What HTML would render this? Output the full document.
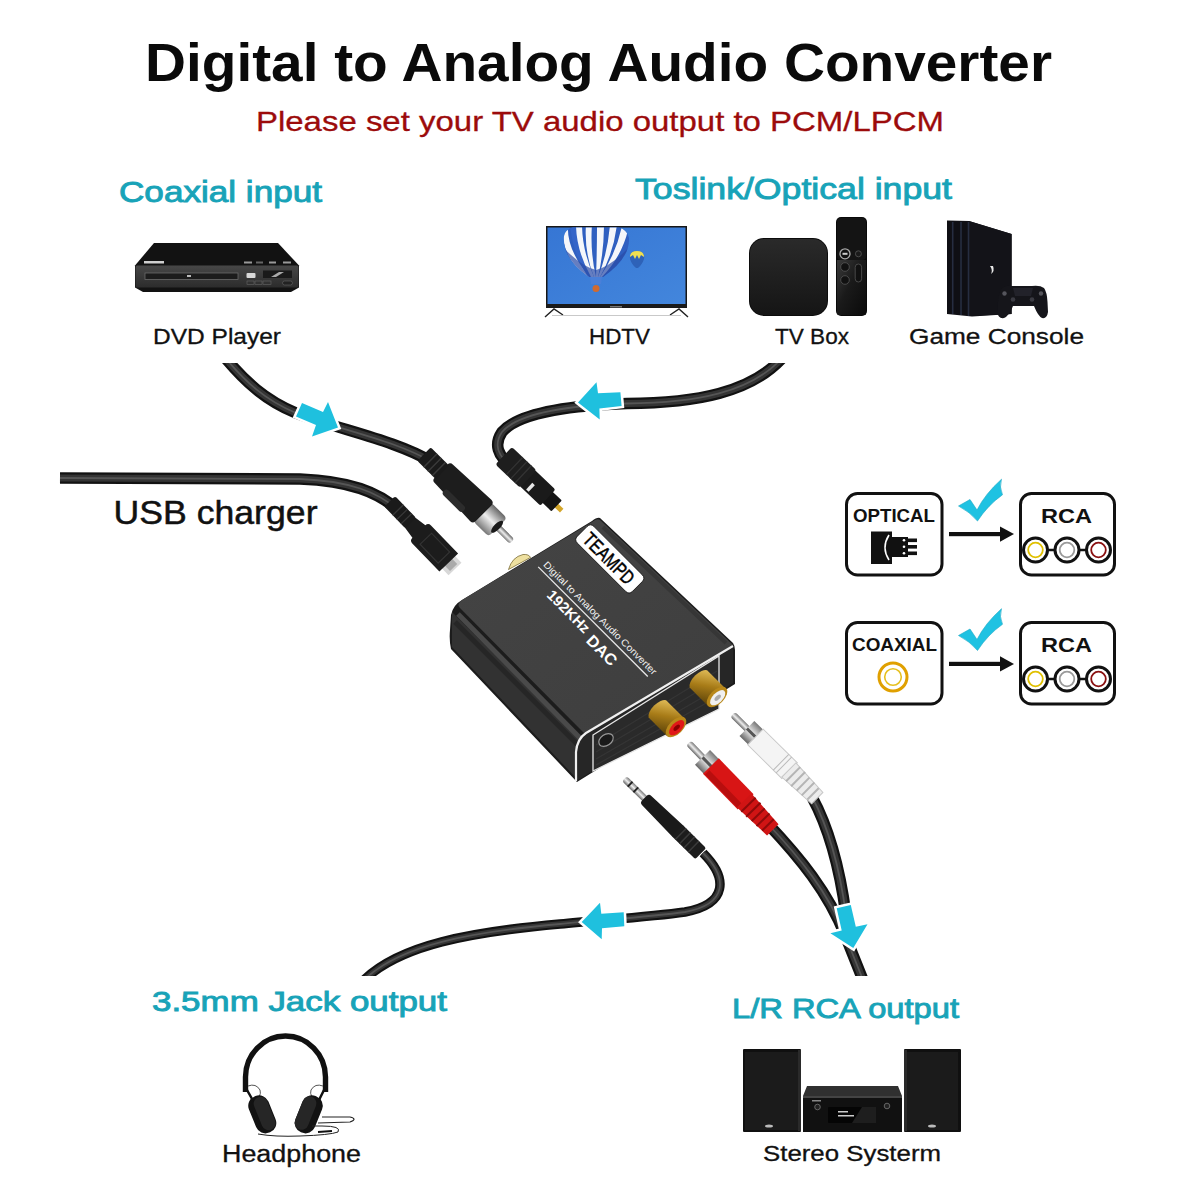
<!DOCTYPE html>
<html><head><meta charset="utf-8">
<style>
html,body{margin:0;padding:0;background:#fff;width:1200px;height:1200px;overflow:hidden}
svg{display:block}
text{font-family:"Liberation Sans",sans-serif}
</style></head>
<body>
<svg width="1200" height="1200" viewBox="0 0 1200 1200">
<defs>
  <linearGradient id="tvscr" x1="0" y1="0" x2="1" y2="1">
    <stop offset="0" stop-color="#3676d4"/><stop offset="1" stop-color="#4386dc"/>
  </linearGradient>
  <linearGradient id="boxg" x1="0" y1="0" x2="0" y2="1">
    <stop offset="0" stop-color="#2a2a2a"/><stop offset="1" stop-color="#151515"/>
  </linearGradient>
  <linearGradient id="topg" x1="0" y1="0" x2="1" y2="1">
    <stop offset="0" stop-color="#444"/><stop offset="1" stop-color="#3e3e3e"/>
  </linearGradient>
  <linearGradient id="gold" x1="0" y1="0" x2="1" y2="1">
    <stop offset="0" stop-color="#e8c460"/><stop offset=".45" stop-color="#a87c18"/><stop offset="1" stop-color="#4e3806"/>
  </linearGradient>
  <linearGradient id="metal" x1="0" y1="0" x2="0" y2="1">
    <stop offset="0" stop-color="#777"/><stop offset=".5" stop-color="#eee"/><stop offset="1" stop-color="#666"/>
  </linearGradient>
</defs>
<rect width="1200" height="1200" fill="#fff"/>

<!-- ===== TEXT ===== -->
<g id="texts">
<text x="145" y="81" font-size="54.3" font-weight="bold" fill="#0a0a0a" textLength="907" lengthAdjust="spacingAndGlyphs">Digital to Analog Audio Converter</text>
<text x="256" y="130.5" font-size="28" fill="#9c0b0b" stroke="#9c0b0b" stroke-width="0.3" textLength="688" lengthAdjust="spacingAndGlyphs">Please set your TV audio output to PCM/LPCM</text>
<text x="119" y="202" font-size="29" fill="#18a3b8" stroke="#18a3b8" stroke-width="0.9" textLength="203" lengthAdjust="spacingAndGlyphs">Coaxial input</text>
<text x="635" y="199" font-size="30" fill="#18a3b8" stroke="#18a3b8" stroke-width="0.9" textLength="317" lengthAdjust="spacingAndGlyphs">Toslink/Optical input</text>
<text x="153" y="344" font-size="22.3" fill="#111" stroke="#111" stroke-width="0.3" textLength="128" lengthAdjust="spacingAndGlyphs">DVD Player</text>
<text x="589" y="344" font-size="22.3" fill="#111" stroke="#111" stroke-width="0.3" textLength="61" lengthAdjust="spacingAndGlyphs">HDTV</text>
<text x="775" y="343.5" font-size="22.3" fill="#111" stroke="#111" stroke-width="0.3" textLength="74" lengthAdjust="spacingAndGlyphs">TV Box</text>
<text x="909" y="343.5" font-size="22.3" fill="#111" stroke="#111" stroke-width="0.3" textLength="175" lengthAdjust="spacingAndGlyphs">Game Console</text>
<text x="113.5" y="524" font-size="33.5" fill="#111" stroke="#111" stroke-width="0.5" textLength="204" lengthAdjust="spacingAndGlyphs">USB charger</text>
<text x="152" y="1011" font-size="28" fill="#18a3b8" stroke="#18a3b8" stroke-width="0.9" textLength="295" lengthAdjust="spacingAndGlyphs">3.5mm Jack output</text>
<text x="732" y="1018" font-size="28" fill="#18a3b8" stroke="#18a3b8" stroke-width="0.9" textLength="227" lengthAdjust="spacingAndGlyphs">L/R RCA output</text>
<text x="222" y="1162" font-size="23" fill="#111" stroke="#111" stroke-width="0.3" textLength="139" lengthAdjust="spacingAndGlyphs">Headphone</text>
<text x="763" y="1161" font-size="22" fill="#111" stroke="#111" stroke-width="0.3" textLength="178" lengthAdjust="spacingAndGlyphs">Stereo Systerm</text>
</g>

<!-- ===== DVD PLAYER ===== -->
<g id="dvd">
  <path d="M154,243 L278,243 L299,265.5 L299,287.5 L291,292 L143,292 L135,287.5 L135,265.5 Z" fill="#121212"/>
  <defs><linearGradient id="dvdf" x1="0" y1="0" x2="0" y2="1"><stop offset="0" stop-color="#474747"/><stop offset="1" stop-color="#2c2c2c"/></linearGradient></defs>
  <rect x="135.5" y="265.5" width="163" height="22" rx="1.5" fill="url(#dvdf)"/>
  <rect x="145" y="273" width="93" height="6.5" fill="#1c1c1c" stroke="#6a6a6a" stroke-width="0.8"/>
  <rect x="187" y="275" width="4" height="2" fill="#bbb"/>
  <rect x="144" y="261" width="20" height="2.5" fill="#cfcfcf"/>
  <rect x="244" y="261.5" width="8" height="2" fill="#999"/>
  <rect x="256" y="261.5" width="7" height="2" fill="#666"/>
  <rect x="269" y="261.5" width="7" height="2" fill="#999"/>
  <rect x="283" y="261.5" width="8" height="2" fill="#999"/>
  <rect x="246.5" y="273" width="9" height="5" rx="1" fill="#d8d8d8"/>
  <rect x="263" y="270.5" width="29" height="7.5" fill="#1a1a1a"/>
  <path d="M271,277 L279,272 L284,272 L276,277 Z" fill="#aaa"/>
  <rect x="247" y="281" width="7" height="3.5" fill="none" stroke="#666" stroke-width="0.6"/>
  <rect x="255" y="281" width="7" height="3.5" fill="none" stroke="#666" stroke-width="0.6"/>
  <rect x="263" y="281" width="8" height="3.5" fill="none" stroke="#666" stroke-width="0.6"/>
  <rect x="282.5" y="281" width="10" height="4" rx="2" fill="#222" stroke="#666" stroke-width="0.6"/>
</g>

<!-- ===== HDTV ===== -->
<g id="tv">
  <clipPath id="envclip"><path d="M564,236 Q566,224 596,224 Q627,224 629,238 Q630,258 603,277 L589,277 Q562,258 564,236 Z"/></clipPath><clipPath id="scrclip"><rect x="547.5" y="227.5" width="138" height="76.5"/></clipPath>
  <rect x="546" y="226" width="141" height="82" fill="#161616"/>
  <rect x="547.5" y="227.5" width="138" height="76.5" fill="url(#tvscr)"/>
  <g clip-path="url(#scrclip)"><g clip-path="url(#envclip)">
    <rect x="560" y="222" width="72" height="60" fill="#2f5fc0"/>
    <path d="M568,224 Q566,250 590,277 L584,277 Q560,252 562,224 Z" fill="#f4f6fa"/>
    <path d="M576,224 Q578,252 592,277 L588,277 Q572,252 570,224 Z" fill="#3464c8"/>
    <path d="M582,224 Q582,250 594,277 L591,277 Q576,250 576,224 Z" fill="#f4f6fa"/>
    <path d="M592,224 Q590,252 596,277 L594,277 Q584,252 586,224 Z" fill="#f4f6fa"/>
    <path d="M604,224 Q604,252 598,277 L596,277 Q597,252 597,224 Z" fill="#f4f6fa"/>
    <path d="M617,224 Q614,252 600,277 L598,277 Q608,252 610,224 Z" fill="#f4f6fa"/>
    <path d="M628,230 Q622,256 602,277 L600,277 Q616,254 622,226 Z" fill="#f4f6fa"/>
    <path d="M560,244 Q580,266 596,270 Q612,266 632,244 L632,282 L560,282 Z" fill="#2a4ca6" opacity="0.7"/>
  </g></g>
  <path d="M590,277 L602,277 L601,284 L591,284 Z" fill="#4a7fd8"/>
  <ellipse cx="596" cy="288.5" rx="3.5" ry="3.5" fill="#d06a30"/>
  <path d="M630,259 Q629,251 637,251 Q645,251 644,259 Q642,265 638,268 L636,268 Q632,265 630,259 Z" fill="#2e62b8"/>
  <path d="M630,257 Q630,251 637,251 Q644,251 644,257 L641,255 L639,259 L637,255 L635,259 L633,255 Z" fill="#f0e050"/>
  <rect x="546" y="304" width="141" height="3.5" fill="#1a1a1a"/>
  <rect x="610" y="306" width="12" height="1.5" fill="#777"/>
  <path d="M545,317 L554,309 L563,315 M688,317 L679,309 L670,315" stroke="#222" stroke-width="1.4" fill="none"/>
  <path d="M552,315.5 L681,315.5" stroke="#bbb" stroke-width="0.8"/>
</g>

<!-- ===== TV BOX ===== -->
<g id="tvbox">
  <rect x="749" y="238" width="79" height="78" rx="15" fill="#0c0c0c"/>
  <rect x="750" y="239" width="77" height="76" rx="14" fill="url(#boxg)"/>
  <defs><linearGradient id="remg" x1="0" y1="0" x2="1" y2="1"><stop offset="0" stop-color="#3a3a3a"/><stop offset=".45" stop-color="#1a1a1a"/><stop offset="1" stop-color="#0a0a0a"/></linearGradient></defs>
  <rect x="836" y="217" width="31" height="99" rx="5" fill="#090909"/>
  <rect x="837" y="218" width="29" height="42" rx="4" fill="#141414"/>
  <path d="M837,260 L866,260 L866,314 Q866,315 864,315 L839,315 Q837,315 837,313 Z" fill="url(#remg)"/>
  <circle cx="845" cy="253.8" r="5" fill="#111" stroke="#aaa" stroke-width="1.3"/>
  <rect x="842.5" y="252.8" width="5" height="2" fill="#ccc"/>
  <circle cx="858.4" cy="253.8" r="3" fill="#1a1a1a" stroke="#555" stroke-width="0.8"/>
  <circle cx="845" cy="267" r="4.3" fill="#111" stroke="#555" stroke-width="0.8"/>
  <rect x="855.2" y="264" width="6.4" height="18" rx="3.2" fill="#111" stroke="#555" stroke-width="0.8"/>
  <circle cx="845" cy="280" r="4.3" fill="#111" stroke="#555" stroke-width="0.8"/>
</g>

<!-- ===== GAME CONSOLE ===== -->
<g id="ps4">
  <path d="M947,220.5 L969,221 L1011.6,234 L1011.6,314 L972,316.5 L947,314 Z" fill="#0f0f14"/>
  <path d="M969,221 L1011.6,234 L1011.6,314 L969,316 Z" fill="#131318"/>
  <path d="M952.7,222 L952.7,314 M961,222 L961,315 M968.5,222 L968.5,316" stroke="#262d40" stroke-width="1.6"/>
  <path d="M990,266 Q993,270 991,274 Q995,271 993,266 Z" fill="#e8e8e8"/>
  <path d="M1003,287.5 Q1006,285 1012,286 L1032,286 Q1040,285 1044,288 Q1047,292 1047.5,302 L1048,312 Q1047,319 1042,318 Q1038,316 1034,306 L1013,306 Q1009,316 1004,318 Q998,319 997.5,312 L998,302 Q999,291 1003,287.5 Z" fill="#15151a"/>
  <path d="M1013,288 L1033,288 L1031,296 L1015,296 Z" fill="#22222a"/>
  <circle cx="1004.5" cy="293.5" r="2.2" fill="#55555c"/>
  <circle cx="1041" cy="293.5" r="2.2" fill="#55555c"/>
  <circle cx="1013" cy="299.5" r="2.3" fill="#3a3a42"/>
  <circle cx="1032" cy="299.5" r="2.3" fill="#3a3a42"/>
</g>

<!-- ===== CABLES ===== -->
<defs>
  <clipPath id="cclip"><rect x="0" y="363" width="1200" height="613"/></clipPath>
  <path id="c1" d="M222,354 C245,382 265,400 296,413 C340,430 395,440 432,462"/>
  <path id="c2" d="M60,478 L300,479 C350,481 378,492 398,510"/>
  <path id="c3" d="M784,356 C752,393 695,403 627,403.5 C580,405 520,411 502,432 C494,444 497,456 512,466"/>
  <path id="c4" d="M703,853 C728,878 728,904 685,912 C650,917 600,920 560,924 C470,932 400,945 364,980"/>
  <path id="c5" d="M768,824 C800,858 828,892 845,935 L863,980"/>
  <path id="c6" d="M812,797 C830,830 840,870 846,915"/>
</defs>
<g fill="none" stroke-linecap="butt" clip-path="url(#cclip)">
  <g stroke="#121212" stroke-width="11.5">
    <use href="#c1"/><use href="#c2"/><use href="#c3"/><use href="#c5"/><use href="#c6"/>
    <use href="#c4" stroke-width="9.5"/>
  </g>
  <g stroke="#343434" stroke-width="7">
    <use href="#c1"/><use href="#c2"/><use href="#c3"/><use href="#c5"/><use href="#c6"/>
    <use href="#c4" stroke-width="5.5"/>
  </g>
  <g stroke="#555" stroke-width="1.8">
    <use href="#c1"/><use href="#c2"/><use href="#c3"/><use href="#c5"/><use href="#c6"/>
    <use href="#c4"/>
  </g>
</g>

<!-- ===== ARROWS ===== -->
<g fill="#1fc0de" stroke="#fff" stroke-width="5" paint-order="stroke" stroke-linejoin="miter">
  <path d="M302,403 L296,416.5 L316,425 L312,436.5 L338,427.5 L328,402 L323,412 Z"/>
  <path d="M578,402.4 L596.5,382.3 L598,393.3 L620.4,392.2 L621.6,405.9 L599.4,408.5 L599.7,419.6 Z"/>
  <path d="M581.7,922 L600,902.7 L601.3,913.7 L623.7,912.3 L624.3,926.3 L602,928.3 L601.7,939.3 Z"/>
  <path d="M836.7,908.3 L850.8,905 L855.8,926.7 L867.5,924.2 L853.3,947.9 L830.4,933.3 L841.7,930.4 Z"/>
</g>

<!-- ===== DEVICE ===== -->
<g id="dac">
  <!-- silhouette outline -->
  <path d="M600,518 L733,643 Q735,646 735,650 L735,684 L577,782 L451,649 Q449,640 450,630 L451,615 Q453,605 462,600 L592,521 Q597,517 600,518 Z" fill="#1c1c1c"/>
  <!-- left face -->
  <path d="M452,612 L580,740 L578,780 L452,647 Z" fill="#323232"/>
  <path d="M455,622 L578,745" stroke="#262626" stroke-width="5" fill="none"/>
  <path d="M458,614 L580,738" stroke="#4a4a4a" stroke-width="5" fill="none"/>
  <!-- top surface -->
  <path d="M600,520 L733,645 L584,733 L460,608 Q456,604 462,600 L592,522 Q597,518 600,520 Z" fill="url(#topg)"/>
  <path d="M603,527 L726,643" stroke="#363636" stroke-width="4" fill="none"/>
  <!-- output face -->
  <path d="M584,735 L733,647 L733,683 L578,780 L576,752 Q576,742 584,735 Z" fill="#262626"/>
  <path d="M733,646 L586,733 Q577,739 576,752 L576,781" stroke="#f0f0f0" stroke-width="2.2" fill="none"/>
  <path d="M593,735 L719,656 L719,709 L593,771 Z" fill="#2a2a2a" stroke="#e6e6e6" stroke-width="1.3"/>
  <path d="M596,745 L717,671 M596,752 L717,680 M596,759 L717,689 M596,765 L717,697" stroke="#353535" stroke-width="1.2"/>
  <ellipse cx="606" cy="740" rx="8" ry="5.5" transform="rotate(-35 606 740)" fill="#1a1a1a" stroke="#999" stroke-width="1.2"/>
  <!-- label + texts in rotated frame -->
  <g transform="translate(538.2,566.9) rotate(45)">
    <path d="M11,-68 L79,-68 Q84,-68 84,-63 L84,-49.5 Q84,-44.5 79,-44.5 L11,-44.5 Q6,-44.5 6,-49.5 L6,-63 Q6,-68 11,-68 Z" fill="#fff" stroke="#111" stroke-width="0.8"/>
    <text x="12" y="-49.2" font-size="19.5" fill="#000" stroke="#000" stroke-width="0.5" textLength="64" lengthAdjust="spacingAndGlyphs">TEAMPD</text>
    <text x="2" y="-4.4" font-size="9.6" fill="#f2f2f2" textLength="156" lengthAdjust="spacingAndGlyphs">Digital to Analog Audio Converter</text>
    <path d="M0,0 L155,0" stroke="#e8e8e8" stroke-width="1.3"/>
    <text x="26" y="15" font-size="14.5" font-weight="bold" fill="#fff" textLength="54" lengthAdjust="spacingAndGlyphs">192KHz</text>
    <text x="86" y="19.5" font-size="16" font-weight="bold" fill="#fff" textLength="36" lengthAdjust="spacingAndGlyphs">DAC</text>
  </g>
  <!-- gold coax jack at back -->
  <path d="M508.5,569.5 Q512,557 523,554.5 Q529,554 530.5,557.5 Z" fill="#eee0a0" stroke="#6a5a20" stroke-width="0.7"/>
  <!-- rca jacks: cylinders along 45deg -->
  <g transform="translate(676,727) rotate(45)">
    <path d="M-26,-12 L0,-12 A6,12.7 0 0 1 0,12.7 L-26,12.7 A6,12.7 0 0 1 -26,-12 Z" fill="url(#gold)"/>
    <ellipse cx="0" cy="0" rx="7" ry="12.7" fill="#b8881a"/>
    <ellipse cx="1" cy="0" rx="5" ry="9.5" fill="#e01818"/>
    <ellipse cx="1" cy="0" rx="2" ry="4" fill="#8a0000"/>
  </g>
  <g transform="translate(717,697) rotate(45)">
    <path d="M-26,-12 L0,-12 A6,12.7 0 0 1 0,12.7 L-26,12.7 A6,12.7 0 0 1 -26,-12 Z" fill="url(#gold)"/>
    <ellipse cx="0" cy="0" rx="7" ry="12.7" fill="#b8881a"/>
    <ellipse cx="1" cy="0" rx="5" ry="9.5" fill="#f0f0f0"/>
    <ellipse cx="1" cy="0" rx="2" ry="4" fill="#aaa"/>
  </g>
</g>

<!-- ===== CONNECTORS ===== -->
<!-- coax RCA plug (x from tip toward cable) -->
<g transform="translate(512,541.5) rotate(224.8)">
  <rect x="0" y="-3.3" width="24" height="6.6" rx="3" fill="url(#metal)"/>
  <rect x="20" y="-13" width="22" height="26" rx="4" fill="url(#metal)"/>
  <ellipse cx="21" cy="0" rx="3" ry="8" fill="#1a1a1a"/>
  <path d="M44,-15 L96,-13 Q100,-13 100,-9 L100,9 Q100,13 96,13 L44,15 Q40,15 40,11 L40,-11 Q40,-15 44,-15 Z" fill="#1d1d1d"/>
  <rect x="56" y="-15.5" width="28" height="7" rx="3" fill="#2c2c2c"/>
  <rect x="98" y="-9.5" width="26" height="19" rx="2" fill="#1a1a1a"/>
  <path d="M103,-9.5 L103,9.5 M109,-9.5 L109,9.5 M115,-9.5 L115,9.5" stroke="#3a3a3a" stroke-width="1.5"/>
</g>
<!-- optical plug -->
<g transform="translate(561,510) rotate(223.4)">
  <rect x="-1" y="-2.5" width="8" height="5" fill="#d4a62a"/>
  <rect x="6" y="-7.5" width="13" height="15" rx="1" fill="#141414"/>
  <rect x="18" y="-11" width="29" height="22" rx="2" fill="#1a1a1a"/>
  <rect x="36" y="-9" width="3.5" height="9" fill="#e8e8e8" transform="rotate(0)"/>
  <rect x="45" y="-12" width="34" height="24" rx="3" fill="#1e1e1e"/>
  <path d="M52,-12 L52,12 M58,-12 L58,12 M64,-12 L64,12" stroke="#333" stroke-width="1.3"/>
</g>
<!-- micro usb -->
<g transform="translate(455,569) rotate(226)">
  <rect x="0" y="-9" width="11" height="18" fill="#d8d8d8"/>
  <rect x="2" y="-5" width="8" height="10" fill="#aaa"/>
  <path d="M9,-13 L48,-13 Q52,-13 52,-9 L66,-7 L66,7 L52,9 Q52,13 48,13 L9,13 Z" fill="#1c1c1c"/>
  <rect x="16" y="-8" width="26" height="16" fill="none" stroke="#333" stroke-width="1.2"/>
  <rect x="64" y="-7.5" width="30" height="15" rx="2" fill="#1a1a1a"/>
  <path d="M70,-7.5 L70,7.5 M76,-7.5 L76,7.5 M82,-7.5 L82,7.5" stroke="#383838" stroke-width="1.3"/>
</g>
<!-- 3.5mm jack -->
<g transform="translate(624.4,778.6) rotate(44.5)">
  <rect x="0" y="-3.4" width="33" height="6.8" rx="3" fill="url(#metal)"/>
  <rect x="7" y="-3.4" width="2" height="6.8" fill="#222"/>
  <rect x="15" y="-3.4" width="2" height="6.8" fill="#222"/>
  <path d="M31,-6.5 L76,-7.8 L76,7.8 L31,6.5 Q28,6.5 28,3 L28,-3 Q28,-6.5 31,-6.5Z" fill="#1a1a1a"/>
  <rect x="74" y="-7.8" width="33" height="15.6" rx="2" fill="#1c1c1c"/>
  <path d="M79,-7.8 L79,7.8 M85,-7.8 L85,7.8 M91,-7.8 L91,7.8 M97,-7.8 L97,7.8" stroke="#3a3a3a" stroke-width="1.5"/>
</g>
<!-- red rca -->
<g transform="translate(688.6,743) rotate(45.9)">
  <rect x="0" y="-3.4" width="26" height="6.8" rx="3" fill="url(#metal)"/>
  <rect x="20" y="-10.5" width="14" height="21" fill="url(#metal)"/>
  <rect x="20" y="-1.5" width="14" height="3" fill="#555"/>
  <path d="M32,-11 L82,-11 L82,11 L32,11 Z" fill="#d81515"/>
  <rect x="34" y="4" width="46" height="6" fill="#b80e0e"/>
  <path d="M80,-10 L121,-8 L121,8 L80,10 Z" fill="#d01414"/>
  <path d="M86,-10 L86,10 M93,-10 L93,10 M100,-9 L100,9 M107,-9 L107,9 M114,-8 L114,8" stroke="#8e0a0a" stroke-width="2"/>
</g>
<!-- white rca -->
<g transform="translate(732.7,714.4) rotate(44.7)">
  <rect x="0" y="-3.4" width="26" height="6.8" rx="3" fill="url(#metal)"/>
  <rect x="20" y="-10.5" width="14" height="21" fill="url(#metal)"/>
  <rect x="20" y="-1.5" width="14" height="3" fill="#555"/>
  <path d="M32,-11 L80,-11 L80,11 L32,11 Z" fill="#f4f4f4" stroke="#c8c8c8" stroke-width="1"/>
  <path d="M68,-11 L68,11 M72,-11 L72,11" stroke="#bbb" stroke-width="1"/>
  <path d="M79,-10 L119,-8 L119,8 L79,10 Z" fill="#ececec" stroke="#c8c8c8" stroke-width="1"/>
  <path d="M85,-10 L85,10 M92,-10 L92,10 M99,-9 L99,9 M106,-9 L106,9 M113,-8 L113,8" stroke="#b5b5b5" stroke-width="2"/>
</g>

<!-- ===== RIGHT DIAGRAM ===== -->
<g id="diag" fill="none" stroke="#111" stroke-width="3">
  <rect x="846.5" y="493.5" width="95.5" height="81.5" rx="11"/>
  <rect x="1020.5" y="493.5" width="94" height="81.5" rx="11"/>
  <rect x="846.5" y="622.5" width="95.5" height="81.5" rx="11"/>
  <rect x="1020.5" y="622.5" width="94" height="81.5" rx="11"/>
</g>
<g font-weight="bold" fill="#111">
  <text x="853" y="522" font-size="18" textLength="82" lengthAdjust="spacingAndGlyphs">OPTICAL</text>
  <text x="852" y="651" font-size="18" textLength="85" lengthAdjust="spacingAndGlyphs">COAXIAL</text>
  <text x="1041" y="523" font-size="21" textLength="51" lengthAdjust="spacingAndGlyphs">RCA</text>
  <text x="1041" y="652" font-size="21" textLength="51" lengthAdjust="spacingAndGlyphs">RCA</text>
</g>
<!-- optical icon -->
<g fill="#111">
  <rect x="871" y="531.5" width="21" height="32.5"/>
  <rect x="890" y="537" width="18" height="20"/>
  <rect x="906" y="538.5" width="11" height="3.6"/>
  <rect x="906" y="545" width="11" height="3.6"/>
  <rect x="906" y="551.5" width="11" height="3.6"/>
</g>
<path d="M889,535 Q881,547.5 889,560" fill="none" stroke="#fff" stroke-width="1.6"/>
<circle cx="904" cy="540.3" r="1.3" fill="#fff"/>
<circle cx="904" cy="546.8" r="1.3" fill="#fff"/>
<circle cx="904" cy="553.3" r="1.3" fill="#fff"/>
<!-- coax icon -->
<circle cx="893" cy="677" r="14" fill="none" stroke="#e0a000" stroke-width="3"/>
<circle cx="893" cy="677" r="8.3" fill="none" stroke="#e6c020" stroke-width="1.6"/>
<!-- arrows -->
<g fill="#111">
  <rect x="949" y="532" width="54" height="4.2"/>
  <path d="M1000,526.5 L1014,534.1 L1000,541.7 Z"/>
  <rect x="949" y="661.8" width="54" height="4.2"/>
  <path d="M1000,656.3 L1014,663.9 L1000,671.5 Z"/>
</g>
<!-- checkmarks -->
<g fill="#1fc2e2" stroke="#1aa8c4" stroke-width="0.6">
  <path d="M958.5,506 L970,499.5 L977,510 Q985,494 1001.5,479.2 Q999,487 1002.5,494.8 Q988,505 977.5,521 Q970,512 958.5,506 Z"/>
  <path d="M958.5,635.5 L970,629 L977,639.5 Q985,623.5 1001.5,608.7 Q999,616.5 1002.5,624.3 Q988,634.5 977.5,650.5 Q970,641.5 958.5,635.5 Z"/>
</g>
<!-- rca circles -->
<g>
  <path d="M1035,550 L1099,550 M1035,679 L1099,679" stroke="#111" stroke-width="2.6"/>
  <g fill="#fff" stroke="#111" stroke-width="3">
    <circle cx="1035.5" cy="550" r="12"/><circle cx="1067" cy="550" r="12"/><circle cx="1098.5" cy="550" r="12"/>
    <circle cx="1035.5" cy="679" r="12"/><circle cx="1067" cy="679" r="12"/><circle cx="1098.5" cy="679" r="12"/>
  </g>
  <g fill="none" stroke-width="1.8">
    <circle cx="1035.5" cy="550" r="7.3" stroke="#e0c000"/><circle cx="1067" cy="550" r="7.3" stroke="#9a9a9a"/><circle cx="1098.5" cy="550" r="7.3" stroke="#8a1010"/>
    <circle cx="1035.5" cy="679" r="7.3" stroke="#e0c000"/><circle cx="1067" cy="679" r="7.3" stroke="#9a9a9a"/><circle cx="1098.5" cy="679" r="7.3" stroke="#8a1010"/>
  </g>
</g>

<!-- ===== HEADPHONE ===== -->
<g id="hp">
  <path d="M245.5,1092 L245.5,1077 A40,41 0 0 1 325.5,1077 L325.5,1092" fill="none" stroke="#111" stroke-width="5.4"/>
  <path d="M247,1090 L256,1106 M324,1090 L316,1106" stroke="#111" stroke-width="2.5"/>
  <path d="M248,1086 Q256,1083 260,1090 Q262,1097 254,1100" fill="none" stroke="#555" stroke-width="1"/>
  <path d="M323,1086 Q315,1083 311,1090 Q309,1097 317,1100" fill="none" stroke="#555" stroke-width="1"/>
  <rect x="252" y="1095" width="21" height="39" rx="10" fill="#121212" transform="rotate(-22 262 1115)"/>
  <rect x="258" y="1097" width="14" height="35" rx="7" fill="#262626" transform="rotate(-22 262 1115)"/>
  <rect x="298" y="1095" width="21" height="39" rx="10" fill="#121212" transform="rotate(22 309 1115)"/>
  <rect x="298" y="1097" width="14" height="35" rx="7" fill="#262626" transform="rotate(22 309 1115)"/>
  <path d="M258,1134 Q275,1137 300,1136 Q330,1135 338,1132 Q342,1126 322,1126 L312,1126" fill="none" stroke="#222" stroke-width="1"/>
  <path d="M322,1117 L350,1117 Q358,1119 350,1122 L318,1123" fill="none" stroke="#222" stroke-width="1.2"/>
  <path d="M318,1132 L332,1131" stroke="#111" stroke-width="2"/>
</g>

<!-- ===== STEREO ===== -->
<g id="stereo">
  <rect x="743" y="1049" width="58" height="83" rx="1" fill="#101010"/>
  <rect x="745" y="1052" width="53" height="78" fill="#1b1b1b"/>
  <rect x="798" y="1050" width="3" height="81" fill="#2a2a2a"/>
  <ellipse cx="769" cy="1126" rx="4" ry="1.6" fill="#bbb"/>
  <rect x="904" y="1049" width="57" height="83" rx="1" fill="#101010"/>
  <rect x="906" y="1052" width="52" height="78" fill="#1b1b1b"/>
  <rect x="904" y="1050" width="3" height="81" fill="#2a2a2a"/>
  <ellipse cx="932" cy="1126" rx="4" ry="1.6" fill="#bbb"/>
  <path d="M807,1086 L898,1086 L902,1096 L803,1096 Z" fill="#303030"/>
  <rect x="803" y="1096" width="99" height="36" fill="#111"/>
  <rect x="803" y="1096" width="99" height="2" fill="#444"/>
  <rect x="828" y="1107" width="48" height="16" rx="1" fill="#050505"/>
  <path d="M862,1107 L876,1107 L876,1123 L852,1123 Z" fill="#1e1e1e"/>
  <rect x="838" y="1111" width="10" height="1.5" fill="#ccc"/>
  <rect x="838" y="1115" width="16" height="1.5" fill="#ccc"/>
  <circle cx="817.5" cy="1107" r="2.8" fill="#222" stroke="#777" stroke-width="0.8"/>
  <circle cx="887" cy="1106" r="2.8" fill="#222" stroke="#777" stroke-width="0.8"/>
  <rect x="812" y="1100" width="9" height="1.5" fill="#888"/>
</g>
</svg>
</body></html>
